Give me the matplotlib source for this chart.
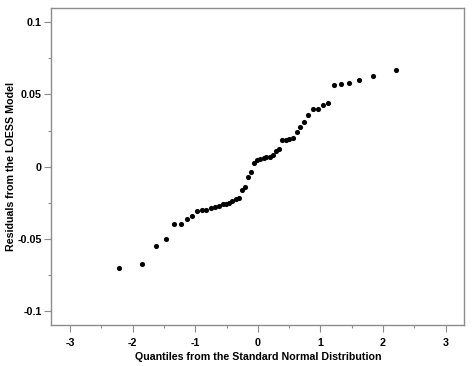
import matplotlib
matplotlib.use("Agg")
import matplotlib.pyplot as plt
from matplotlib.ticker import MultipleLocator

plt.rcParams['font.family'] = ['Liberation Sans', 'DejaVu Sans']

normal_quantiles = [-2.22, -1.85, -1.635, -1.47, -1.342, -1.225, -1.129, -1.044, -0.964, -0.889,
                    -0.825, -0.756, -0.687, -0.623, -0.564, -0.511, -0.458, -0.405, -0.351, -0.298,
                    -0.250, -0.202, -0.154, -0.101, -0.053, -0.005, 0.043, 0.091, 0.138, 0.192,
                    0.240, 0.293, 0.341, 0.394, 0.447, 0.506, 0.564, 0.623, 0.682, 0.745,
                    0.809, 0.884, 0.958, 1.038, 1.124, 1.219, 1.331, 1.464, 1.619, 1.837, 2.210]
residuals = [-0.0704, -0.0676, -0.0551, -0.0502, -0.0400, -0.0398, -0.0366, -0.0343, -0.0308, -0.0303,
             -0.0303, -0.0285, -0.0278, -0.0271, -0.0259, -0.0257, -0.0250, -0.0241, -0.0225, -0.0215,
             -0.0162, -0.0139, -0.0076, -0.0039, 0.0023, 0.0042, 0.0053, 0.0058, 0.0069, 0.0069,
             0.0083, 0.0106, 0.0120, 0.0185, 0.0185, 0.0194, 0.0201, 0.0241, 0.0273, 0.0308,
             0.0357, 0.0398, 0.0400, 0.0424, 0.0442, 0.0563, 0.0574, 0.0579, 0.0604, 0.0627, 0.0667]

x_ticks = [-3, -2, -1, 0, 1, 2, 3]
x_ticklabels = ['-3', '-2', '-1', '0', '1', '2', '3']
y_ticks = [-0.1, -0.05, 0, 0.05, 0.1]
y_ticklabels = ['-0.1', '-0.05', '0', '0.05', '0.1']
xlabel = 'Quantiles from the Standard Normal Distribution'
ylabel = 'Residuals from the LOESS Model'

fig = plt.figure(figsize=(4.74, 3.66), dpi=100)
ax = fig.add_axes([0.1083, 0.112, 0.8712, 0.866])
ax.plot(normal_quantiles, residuals, 'o', color='black', markersize=3.7, markeredgewidth=0)

ax.set_xlim(-3.3, 3.3)
ax.set_ylim(-0.11, 0.11)
ax.set_xticks(x_ticks)
ax.set_xticklabels(x_ticklabels, fontsize=7.7, fontweight='bold')
ax.set_yticks(y_ticks)
ax.set_yticklabels(y_ticklabels, fontsize=7.7, fontweight='bold')
ax.xaxis.set_minor_locator(MultipleLocator(0.5))
ax.yaxis.set_minor_locator(MultipleLocator(0.025))

gray = '#8c8c8c'
for s in ax.spines.values():
    s.set_color(gray)
    s.set_linewidth(1.0)
ax.tick_params(which='major', direction='out', length=5, width=0.8, color=gray)
ax.tick_params(axis='x', which='major', pad=4)
ax.tick_params(axis='y', which='major', pad=2)
ax.tick_params(which='minor', direction='out', length=2.5, width=0.8, color=gray)

ax.set_xlabel(xlabel, fontsize=7.7, fontweight='bold', labelpad=3.5)
ax.set_ylabel(ylabel, fontsize=7.7, fontweight='bold', labelpad=1)

fig.savefig('out.png', dpi=100)
